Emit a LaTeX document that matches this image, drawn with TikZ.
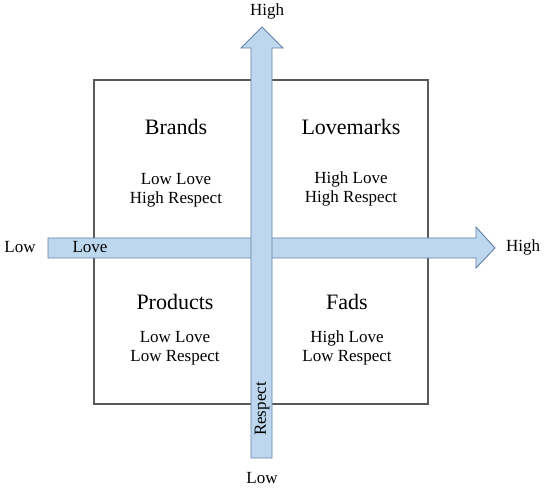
\documentclass[tikz,border=0pt]{standalone}
\usepackage{fontspec}
\setmainfont{Liberation Serif}
\definecolor{arrowfill}{RGB}{189,215,238}
\definecolor{arrowline}{RGB}{100,128,165}
\definecolor{boxline}{RGB}{89,89,89}
\begin{document}
\begin{tikzpicture}[x=1pt,y=-1pt,
  title/.style={font=\fontsize{22}{26}\selectfont, inner sep=0pt},
  sub/.style={font=\fontsize{17}{19}\selectfont, align=center, inner sep=0pt},
  lbl/.style={font=\fontsize{17}{19}\selectfont, inner sep=0pt},
  arr/.style={fill=arrowfill, draw=arrowline, line width=0.9pt, line join=miter}]
\useasboundingbox (0,0) rectangle (550,492);
% box
\draw[boxline, line width=1.3pt] (94,80) rectangle (428,404);
% horizontal arrow
\draw[arr] (48,238) -- (476,238) -- (476,227) -- (495,248) -- (476,268) -- (476,258) -- (48,258) -- cycle;
% vertical arrow
\draw[arr] (251,458) -- (251,48) -- (241,48) -- (262,27) -- (283,48) -- (272,48) -- (272,458) -- cycle;
% titles
\node[title] (brands) at (176,127) {Brands};
\node[title] (lovemarks) at (351,127) {Lovemarks};
\node[title] (products) at (175,302) {Products};
\node[title] (fads) at (347,302) {Fads};
% sub texts
\node[sub] (bs) at (176,190) {Low Love\\High Respect};
\node[sub] (ls) at (351,189) {High Love\\High Respect};
\node[sub] (ps) at (175,348) {Low Love\\Low Respect};
\node[sub] (fs) at (347,348) {High Love\\Low Respect};
% axis labels
\node[lbl] (hightop) at (267,11) {High};
\node[lbl] (lowleft) at (20,247) {Low};
\node[lbl] (highright) at (523,247) {High};
\node[lbl] (lowbottom) at (262,478) {Low};
\node[lbl] (love) at (90,247) {Love};
\node[lbl, rotate=90] (respect) at (262,409) {Respect};
\end{tikzpicture}
\end{document}
